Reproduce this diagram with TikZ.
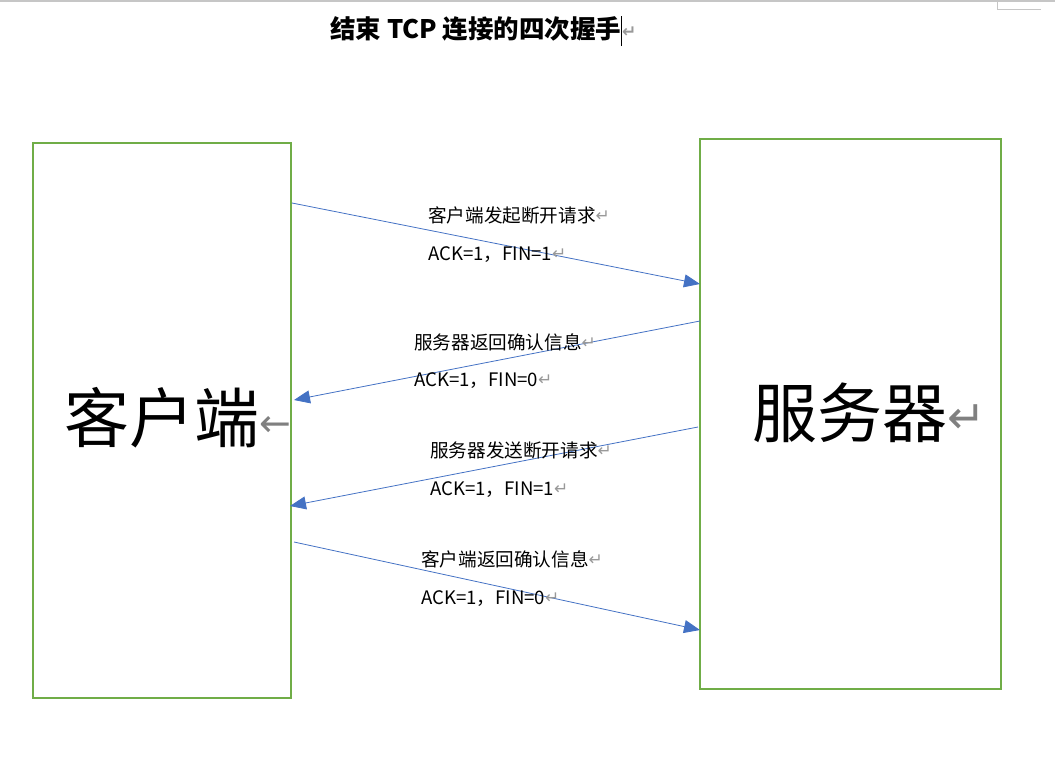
\documentclass[tikz,border=0pt]{standalone}
\usepackage{fontspec}
\setmainfont{Noto Sans CJK SC}
\newfontfamily\symfont{DejaVu Sans}
\usepackage{xcolor}
\usetikzlibrary{arrows.meta}
\definecolor{boxgreen}{HTML}{70AD47}
\definecolor{msgblue}{HTML}{4472C4}
\newcommand{\retmark}{{\color{gray!80}\symfont\fontsize{17}{17}\selectfont\raisebox{1pt}{↵}}}

\begin{document}
\begin{tikzpicture}[x=1pt,y=-1pt,>={Triangle[length=16pt,width=13pt]}]
\useasboundingbox (0,0) rectangle (1055,758);
\draw[gray!45, line width=1.5pt] (0,1) -- (1055,1);
\draw[gray!45] (997,1) -- (997,9) -- (1041,9);
	\node[anchor=west, inner sep=0pt, font=\fontsize{25.5}{27}\selectfont\bfseries] (title) at (330,31) {结束 TCP 连接的四次握手\rule[-8pt]{0.8pt}{30pt}\retmark};
	\draw[boxgreen, line width=2pt] (33,143) rectangle (291,698);
	\draw[boxgreen, line width=2pt] (700,139) rectangle (1001,689);
	\node[anchor=west, inner sep=0pt, font=\fontsize{65}{68}\selectfont] (client) at (64,418) {客户端{\color{gray}\symfont\fontsize{38}{38}\selectfont\raisebox{6pt}{←}}};
	\node[anchor=west, inner sep=0pt, font=\fontsize{65}{68}\selectfont] (server) at (752,413) {服务器{\color{gray}\symfont\fontsize{46}{46}\selectfont\raisebox{4pt}{↵}}};
\coordinate (c1) at (292,203);
\coordinate (s1) at (700,284);
\coordinate (s2) at (700,321);
\coordinate (c2) at (294,400);
\coordinate (s3) at (698,427);
\coordinate (c3) at (290,506);
\coordinate (c4) at (294,542);
\coordinate (s4) at (700,630);
\draw[->, msgblue, line width=0.8pt] (c1) -- (s1);
\draw[->, msgblue, line width=0.8pt] (s2) -- (c2);
\draw[->, msgblue, line width=0.8pt] (s3) -- (c3);
\draw[->, msgblue, line width=0.8pt] (c4) -- (s4);
	\node[anchor=west, inner sep=0pt, font=\fontsize{18.6}{20}\selectfont] (m1) at (428,215) {客户端发起断开请求\retmark};
	\node[anchor=west, inner sep=0pt, font=\fontsize{18.6}{20}\selectfont] (f1) at (428,255) {ACK=1，FIN=1\retmark};
	\node[anchor=west, inner sep=0pt, font=\fontsize{18.6}{20}\selectfont] (m2) at (414,342) {服务器返回确认信息\retmark};
	\node[anchor=west, inner sep=0pt, font=\fontsize{18.6}{20}\selectfont] (f2) at (414,381) {ACK=1，FIN=0\retmark};
	\node[anchor=west, inner sep=0pt, font=\fontsize{18.6}{20}\selectfont] (m3) at (430,450) {服务器发送断开请求\retmark};
	\node[anchor=west, inner sep=0pt, font=\fontsize{18.6}{20}\selectfont] (f3) at (430,490) {ACK=1，FIN=1\retmark};
	\node[anchor=west, inner sep=0pt, font=\fontsize{18.6}{20}\selectfont] (m4) at (421,559) {客户端返回确认信息\retmark};
	\node[anchor=west, inner sep=0pt, font=\fontsize{18.6}{20}\selectfont] (f4) at (421,599) {ACK=1，FIN=0\retmark};
\end{tikzpicture}
\end{document}
